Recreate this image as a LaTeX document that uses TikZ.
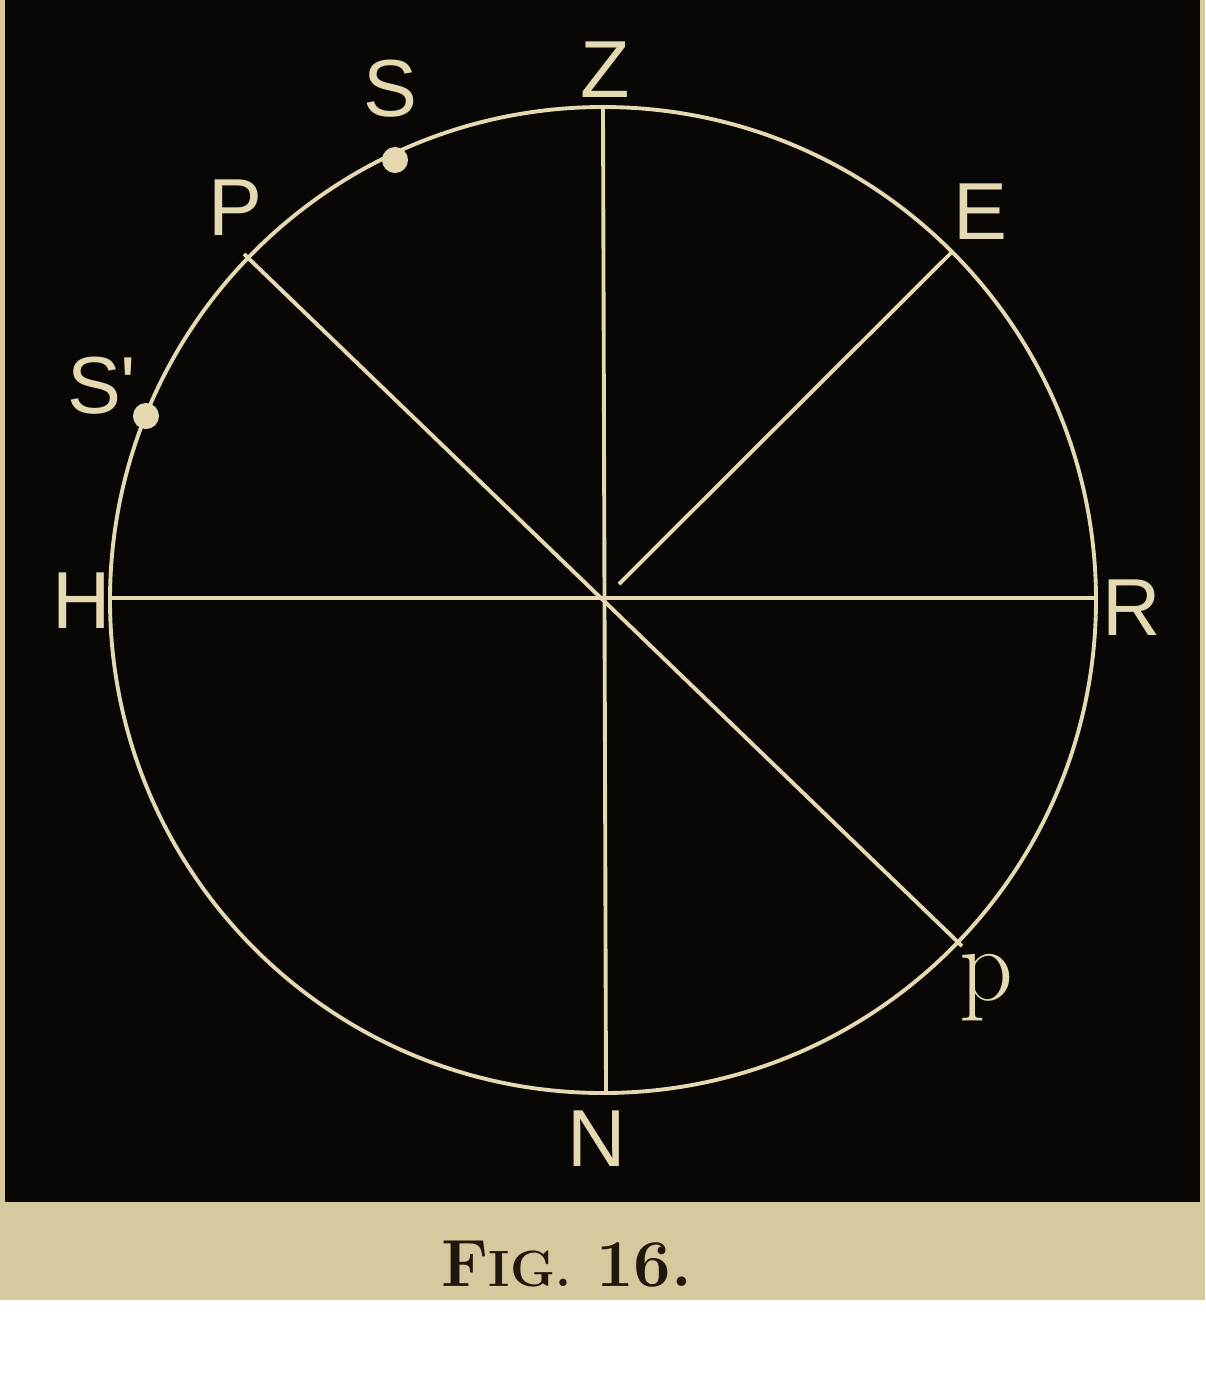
\documentclass[tikz,border=0pt]{standalone}
\usepackage{fontspec}
\newfontfamily\lblfont{Liberation Sans}
\definecolor{paper}{RGB}{214,201,158}
\definecolor{plate}{RGB}{8,7,6}
\definecolor{chalk}{RGB}{228,217,176}
\definecolor{ink}{RGB}{35,22,15}
\begin{document}
\begin{tikzpicture}[x=0.01cm,y=-0.01cm,
 chalkline/.style={draw=chalk,line width=1.1pt},
 lbl/.style={text=chalk,font=\lblfont\fontsize{23}{23}\selectfont,inner sep=0pt},
 star/.style={fill=chalk,circle,inner sep=0pt,minimum size=.26cm},
 ]
 \useasboundingbox (0,0) rectangle (1205,1390);
 \fill[paper] (0,0) rectangle (1205,1300);
 \fill[white] (0,1300) rectangle (1205,1390);
 \fill[plate] (5,0) rectangle (1200,1202);

 % circle and its points
 \coordinate (O) at (603,600);
 \draw[chalkline] (O) circle[radius=493];
 \coordinate (Z) at (603,107);
 \coordinate (N) at (606,1093);
 \coordinate (H) at (110,598);
 \coordinate (R) at (1095,598);
 \coordinate (P) at (244,254);
 \coordinate (p) at (962,946);
 \coordinate (E) at (952,252);
 \coordinate (Ec) at (619,584);

 \draw[chalkline] (Z) -- (N);
 \draw[chalkline] (H) -- (R);
 \draw[chalkline] (P) -- (p);
 \draw[chalkline] (E) -- (Ec);

 \node[star] (S) at (395,160) {};
 \node[star] (S1) at (146,416) {};

 %Beschriftung
 \foreach \n/\x/\y/\t in {lS/390/89/S,lZ/605/70/Z,lP/235/208/P,lE/980/212/E,
   lS1/94/386/{S\rlap{'}},lH/82/601/H,lR/1132/608/R,lN/597/1139/N} {
 	\node[lbl] (\n) at (\x,\y) {\t};
 }
 \node[text=chalk,font=\fontsize{30}{30}\selectfont,inner sep=0pt] (lp) at (986,988) {p};

 \node[text=ink,font=\bfseries\fontsize{19}{19}\selectfont,inner sep=0pt] (cap) at (567,1264)
   {F\textbf{\fontsize{14.5}{14.5}\selectfont IG.} 16.};
\end{tikzpicture}
\end{document}
